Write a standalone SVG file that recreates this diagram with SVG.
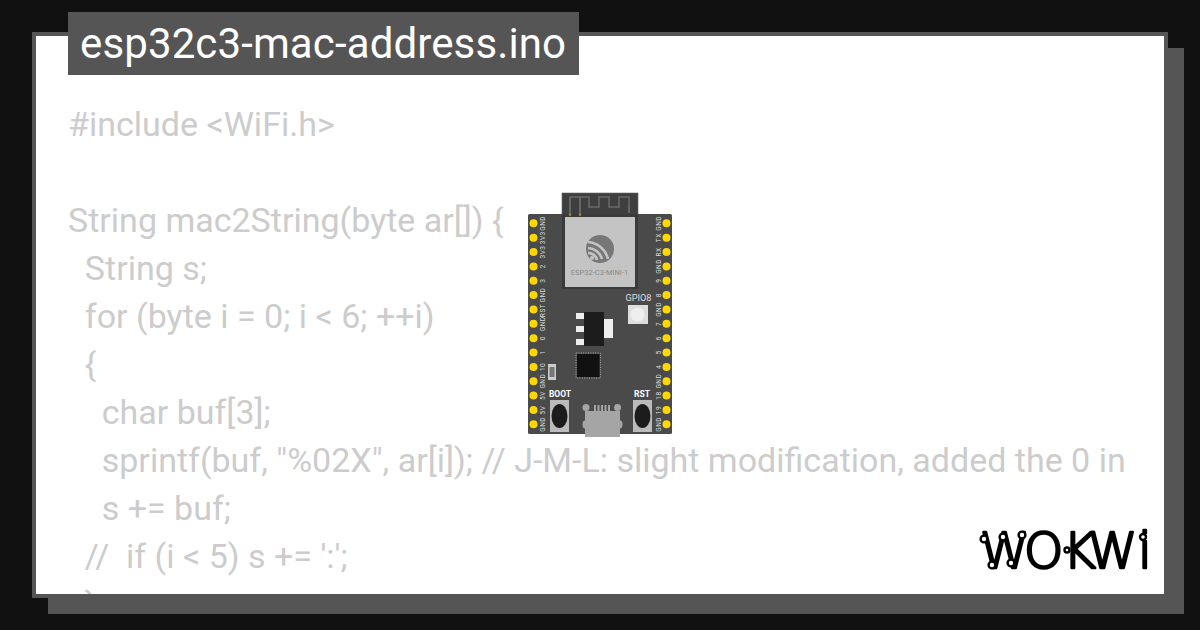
<svg xmlns="http://www.w3.org/2000/svg" width="1200" height="630" viewBox="0 0 1200 630">
<style>
.code{font:34px Roboto,sans-serif;fill:#ccc;white-space:pre}
.pad{fill:#ffd800}
.pl{font:6.500px Roboto,sans-serif;letter-spacing:.5px;fill:#ddd;text-anchor:middle}
.blk{fill:#1c1c1c}
.wht{fill:#eee}
.logo{font-family:"DejaVu Sans",sans-serif;font-weight:200;font-size:50px;fill:#000;stroke:#000;stroke-width:2.600px;stroke-linejoin:round}
.dot{fill:#fff;stroke:#000;stroke-width:2.400}
</style>
<defs>
<clipPath id="c"><rect x="36" y="36" width="1128" height="558"/></clipPath>
<circle id="p" r="4" class="pad"/>
</defs>
<rect width="1200" height="630" fill="#111"/>
<rect x="48" y="48" width="1136" height="566" fill="#555"/>
<rect x="32" y="32" width="1136" height="566" fill="#555"/>
<rect x="36" y="36" width="1128" height="558" fill="#fff"/>
<g id="code" clip-path="url(#c)" class="code">
<text x="68" y="136">#include &lt;WiFi.h&gt;</text>
<text x="68" y="232">String mac2String(byte ar[]) {</text>
<text x="68" y="280" xml:space="preserve">  String s;</text>
<text x="68" y="328" xml:space="preserve">  for (byte i = 0; i &lt; 6; ++i)</text>
<text x="68" y="376" xml:space="preserve">  {</text>
<text x="68" y="424" xml:space="preserve">    char buf[3];</text>
<text x="68" y="472" xml:space="preserve">    sprintf(buf, "%02X", ar[i]); // J-M-L: slight modification, added the 0 in</text>
<text x="68" y="520" xml:space="preserve">    s += buf;</text>
<text x="68" y="568" xml:space="preserve">  //  if (i &lt; 5) s += ':';</text>
<text x="68" y="616" xml:space="preserve">  }</text>
</g>
<g id="title">
<rect x="68" y="12" width="511" height="63" fill="#555"/>
<text x="80" y="58" font-family="Roboto,sans-serif" font-size="42" fill="#fff" textLength="486">esp32c3-mac-address.ino</text>
</g>
<g id="board">
<rect x="562" y="193" width="76" height="24" fill="#3f3f3f" stroke="#666" stroke-width=".6"/>
<path d="M570 216V197H589V207H599V197H609V207H619V197H629V213M580 216V197" fill="none" stroke="#6a6a6a" stroke-width="1.500"/>
<rect x="528" y="214" width="144" height="220" rx="1.500" fill="#4a4a4a"/>
<rect x="562" y="214" width="76" height="75" fill="#3a3a3a"/>
<path d="M570 214V197M580 214V197M629 213V207" fill="none" stroke="#6a6a6a" stroke-width="1.500"/>
<circle cx="570" cy="214.700" r="1.200" fill="#b08a20"/><circle cx="580" cy="214.700" r="1.200" fill="#b08a20"/>
<rect x="565" y="217" width="70" height="70" fill="#c4c4c4"/>
<circle cx="600" cy="249" r="14" fill="#777"/>
<path d="M588 242A22 22 0 0 1 608 259M588 248A15 15 0 0 1 602 259M588 253A9 9 0 0 1 597 260" fill="none" stroke="#c4c4c4" stroke-width="2.600"/>
<circle cx="592" cy="258" r="2" fill="#c4c4c4"/>
<text x="599.500" y="274.500" font-family="Roboto,sans-serif" font-size="7.500" fill="#8a8a8a" text-anchor="middle">ESP32-C3-MINI-1</text>
<g id="pads-left">
<use href="#p" x="533.500" y="223.300"/><use href="#p" x="533.500" y="237.700"/><use href="#p" x="533.500" y="252"/><use href="#p" x="533.500" y="266.400"/><use href="#p" x="533.500" y="280.700"/><use href="#p" x="533.500" y="295.100"/><use href="#p" x="533.500" y="309.400"/><use href="#p" x="533.500" y="323.800"/><use href="#p" x="533.500" y="338.200"/><use href="#p" x="533.500" y="352.500"/><use href="#p" x="533.500" y="366.900"/><use href="#p" x="533.500" y="381.200"/><use href="#p" x="533.500" y="395.600"/><use href="#p" x="533.500" y="410"/><use href="#p" x="533.500" y="424.300"/>
</g>
<g id="pads-right">
<use href="#p" x="666.500" y="223.300"/><use href="#p" x="666.500" y="237.700"/><use href="#p" x="666.500" y="252"/><use href="#p" x="666.500" y="266.400"/><use href="#p" x="666.500" y="280.700"/><use href="#p" x="666.500" y="295.100"/><use href="#p" x="666.500" y="309.400"/><use href="#p" x="666.500" y="323.800"/><use href="#p" x="666.500" y="338.200"/><use href="#p" x="666.500" y="352.500"/><use href="#p" x="666.500" y="366.900"/><use href="#p" x="666.500" y="381.200"/><use href="#p" x="666.500" y="395.600"/><use href="#p" x="666.500" y="410"/><use href="#p" x="666.500" y="424.300"/>
</g>
<g class="pl">
<text transform="translate(545 223.300) rotate(-90)">GND</text>
<text transform="translate(545 237.700) rotate(-90)">3V3</text>
<text transform="translate(545 252) rotate(-90)">3V3</text>
<text transform="translate(545 266.400) rotate(-90)">2</text>
<text transform="translate(545 280.700) rotate(-90)">3</text>
<text transform="translate(545 295.100) rotate(-90)">GND</text>
<text transform="translate(545 310.500) rotate(-90)">RST</text>
<text transform="translate(545 323.800) rotate(-90)">GND</text>
<text transform="translate(545 338.200) rotate(-90)">0</text>
<text transform="translate(545 352.500) rotate(-90)">1</text>
<text transform="translate(545 366.900) rotate(-90)">10</text>
<text transform="translate(545 381.200) rotate(-90)">GND</text>
<text transform="translate(545 395.600) rotate(-90)">5V</text>
<text transform="translate(545 410) rotate(-90)">5V</text>
<text transform="translate(545 424.300) rotate(-90)">GND</text>
<text transform="translate(661 223.300) rotate(-90)">GND</text>
<text transform="translate(661 237.700) rotate(-90)">TX</text>
<text transform="translate(661 252) rotate(-90)">RX</text>
<text transform="translate(661 266.400) rotate(-90)">GND</text>
<text transform="translate(661 280.700) rotate(-90)">9</text>
<text transform="translate(661 295.100) rotate(-90)">8</text>
<text transform="translate(661 309.400) rotate(-90)">GND</text>
<text transform="translate(661 323.800) rotate(-90)">7</text>
<text transform="translate(661 338.200) rotate(-90)">6</text>
<text transform="translate(661 352.500) rotate(-90)">5</text>
<text transform="translate(661 366.900) rotate(-90)">4</text>
<text transform="translate(661 381.200) rotate(-90)">GND</text>
<text transform="translate(661 395.600) rotate(-90)">18</text>
<text transform="translate(661 410) rotate(-90)">19</text>
<text transform="translate(661 424.300) rotate(-90)">GND</text>
</g>
<text x="638.500" y="301" font-family="Roboto,sans-serif" font-size="9.200" fill="#ddd" text-anchor="middle">GPIO8</text>
<rect x="628" y="305" width="20" height="19" fill="#ddd"/>
<circle cx="637.500" cy="314.500" r="7" fill="#eee"/>
<rect x="604" y="319" width="9" height="19" class="wht"/>
<rect x="576" y="313" width="8" height="6" class="wht"/><rect x="576" y="326" width="8" height="6" class="wht"/><rect x="576" y="339" width="8" height="6" class="wht"/>
<rect x="584" y="312" width="20" height="34" class="blk"/>
<rect x="576" y="353" width="24.500" height="25" fill="none" stroke="#aaa" stroke-width="1" stroke-dasharray="1 1.400"/>
<rect x="577" y="354" width="22.500" height="23" fill="#111"/>
<rect x="548" y="364" width="8" height="16" fill="#ccc"/>
<rect x="549.500" y="367" width="5" height="10" fill="#777"/>
<text x="560" y="397" font-family="Roboto,sans-serif" font-size="8.500" font-weight="700" fill="#fff" text-anchor="middle">BOOT</text>
<text x="642" y="397" font-family="Roboto,sans-serif" font-size="8.500" font-weight="700" fill="#fff" text-anchor="middle">RST</text>
<rect x="550" y="400" width="19" height="32" fill="#bbb"/><ellipse cx="559.500" cy="416" rx="8" ry="12" class="blk"/>
<rect x="633" y="400" width="19" height="32" fill="#bbb"/><ellipse cx="642.500" cy="416" rx="8" ry="12" class="blk"/>
<g id="usb" fill="#a5a5a5">
<circle cx="586" cy="407.500" r="3.500"/><circle cx="617.500" cy="407.500" r="3.500"/>
<ellipse cx="585" cy="424.500" rx="2.500" ry="4"/><ellipse cx="620" cy="424.500" rx="2.500" ry="4"/>
<rect x="594" y="405" width="2" height="6"/><rect x="597.500" y="405" width="2" height="6"/><rect x="601" y="405" width="2" height="6"/><rect x="604.500" y="405" width="2" height="6"/><rect x="608" y="405" width="2" height="6"/>
<rect x="585" y="411" width="35" height="26"/>
</g>
</g>
<g id="wokwi-logo">
<text class="logo" y="568" x="980 1024 1063 1088 1138">WOKWi</text>
<circle class="dot" cx="984" cy="539" r="3.400"/><circle class="dot" cx="1003" cy="537" r="3.400"/><circle class="dot" cx="1022" cy="535" r="3.400"/>
<circle class="dot" cx="992" cy="565" r="3.400"/><circle class="dot" cx="1011" cy="563" r="3.400"/><circle class="dot" cx="1067" cy="550" r="2.500"/><circle class="dot" cx="1143" cy="537" r="3"/>
</g>
</svg>
